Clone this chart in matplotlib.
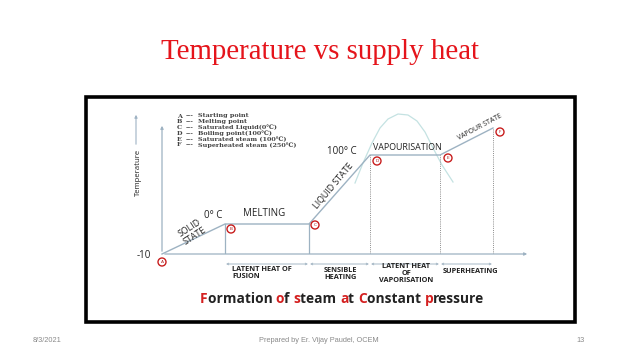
import matplotlib.pyplot as plt
from matplotlib.patches import Rectangle

# schematic heating curve (heat supplied vs temperature level)
points = ["A", "B", "C", "D", "E", "F"]
heat = [0, 63, 147, 208, 278, 331]
level = [0, 30, 30, 99, 99, 126]
temps = [-10, 0, 0, 100, 100, 250]

# saturation dome (light curve behind D-E)
dome_heat = [193, 201, 210, 218, 226, 236, 246, 255, 263, 271, 280, 291]
dome_level = [71, 91, 111, 126, 135, 140, 139, 133, 122, 106, 89, 72]

legend_lines = [
    ("A", "Starting point"),
    ("B", "Melting point"),
    ("C", "Saturated Liquid(0\u2103)"),
    ("D", "Boiling point(100\u2103)"),
    ("E", "Saturated steam (100\u2103)"),
    ("F", "Superheated steam (250\u2103)"),
]
zone_labels = ["LATENT HEAT OF\nFUSION", "SENSIBLE\nHEATING",
               "LATENT HEAT\nOF\nVAPORISATION", "SUPERHEATING"]

W, H = 638, 359
fig = plt.figure(figsize=(W / 100, H / 100), dpi=100)
bg = fig.add_axes([0, 0, 1, 1])
bg.set_xlim(0, W)
bg.set_ylim(H, 0)
bg.axis("off")

# slide title and footer
bg.text(320, 52, "Temperature vs supply heat", color="#e5141b", fontsize=20.8,
        family="Liberation Serif", ha="center", va="center")
foot = dict(color="#8a8a8a", fontsize=5.3, family="Liberation Sans", va="center")
bg.text(47, 341, "8/3/2021", ha="center", **foot)
bg.text(319, 341, "Prepared by Er. Vijay Paudel, OCEM", ha="center", **foot)
bg.text(581, 341, "13", ha="center", **foot)

# picture frame
bg.add_patch(Rectangle((86, 97), 489, 225, fill=False, ec="black", lw=2.6))

# temperature label with arrow
bg.annotate("", xy=(136, 112), xytext=(136, 147),
            arrowprops=dict(arrowstyle="-|>", color="#9fb3c4", lw=0.8, mutation_scale=4))
bg.text(138, 172, "Temperature", rotation=90, fontsize=5.6, family="Open Sans",
        ha="center", va="center", color="#222")

# legend
for i, (k, desc) in enumerate(legend_lines):
    y = 116 + i * 5.8
    st = dict(fontsize=4.6, family=["DejaVu Serif", "DejaVu Sans"], color="#444",
              va="center", fontweight="bold")
    bg.text(177, y, k, **st)
    bg.text(186, y, "---", **st)
    bg.text(198, y, desc, **st)

# diagram axes: 1 data unit = 1 pixel
ax = fig.add_axes([162 / W, (H - 254) / H, 368 / W, 131 / H])
ax.set_xlim(0, 368)
ax.set_ylim(0, 131)
ax.axis("off")

line_c = "#9db2c2"
ax.annotate("", xy=(368, 0), xytext=(0, 0),
            arrowprops=dict(arrowstyle="-|>", color=line_c, lw=0.9, mutation_scale=4))
ax.annotate("", xy=(0, 131), xytext=(0, 0),
            arrowprops=dict(arrowstyle="-|>", color=line_c, lw=0.9, mutation_scale=4))

ax.plot(dome_heat, dome_level, color="#c4e2e2", lw=0.9, clip_on=False)
ax.plot(heat, level, color=line_c, lw=1.0, clip_on=False)
for i in (1, 2):
    ax.plot([heat[i], heat[i]], [0, level[i]], color=line_c, lw=0.9)
for i in (3, 4, 5):
    ax.plot([heat[i], heat[i]], [0, level[i]], color="#8c8c8c", lw=0.7, ls=(0, (1, 1.2)))

# point markers
offsets = [(0, -8), (6, -5), (6, -1), (7, -6), (8, -3), (7, -4)]
for p, x, y, (dx, dy) in zip(points, heat, level, offsets):
    ax.annotate(p, xy=(x, y), xytext=(dx, dy), textcoords="offset pixels",
                fontsize=3.2, ha="center", va="center", color="#b02020",
                bbox=dict(boxstyle="circle,pad=0.45", fc="white", ec="#c81e1e", lw=1.0),
                annotation_clip=False)

# zone arrows and labels
zone_edges = heat[1:]
lab = dict(fontsize=5.3, family="Open Sans", fontweight="bold", color="#222",
           ha="center", va="top", linespacing=1.0)
for j in range(len(zone_edges) - 1):
    x0, x1 = zone_edges[j], zone_edges[j + 1]
    ax.annotate("", xy=(x1 - 1, -10), xytext=(x0 + 1, -10), annotation_clip=False,
                arrowprops=dict(arrowstyle="<->", color="#a6b8c6", lw=0.7,
                                mutation_scale=3, shrinkA=0, shrinkB=0))
ax.text(70, -12, zone_labels[0], clip_on=False, **{**lab, "ha": "left"})
ax.text((zone_edges[1] + zone_edges[2]) / 2 + 1, -13, zone_labels[1], clip_on=False, **lab)
ax.text((zone_edges[2] + zone_edges[3]) / 2 + 1, -9, zone_labels[2], clip_on=False, **lab)
ax.text((zone_edges[3] + zone_edges[4]) / 2 + 4, -14, zone_labels[3], clip_on=False, **lab)

# state labels
txt = dict(fontsize=7, family="Open Sans", color="#222", ha="center", va="center")
ax.text(-18, -1, str(temps[0]), **txt)
ax.text(51, 38, "%d\u00b0 C" % temps[1], **txt)
ax.text(102, 40, "MELTING", **txt)
ax.text(180, 102, "%d\u00b0 C" % temps[3], **txt)
ax.text(245, 106, "VAPOURISATION", **{**txt, "fontsize": 6.4})
ax.text(30, 22, "SOLID\nSTATE", rotation=33, linespacing=1.0, **{**txt, "fontsize": 6.4})
ax.text(171, 68, "LIQUID STATE", rotation=50, **{**txt, "fontsize": 6.4})
ax.text(318, 127, "VAPOUR STATE", rotation=28, **{**txt, "fontsize": 5})

# caption with red initials
parts = [("F", "#d42020"), ("ormation ", "#222"), ("o", "#d42020"), ("f ", "#222"),
         ("s", "#d42020"), ("team ", "#222"), ("a", "#d42020"), ("t ", "#222"),
         ("C", "#d42020"), ("onstant ", "#222"), ("p", "#d42020"), ("ressure", "#222")]
cap = dict(fontsize=9.9, family="Open Sans", fontweight="bold", va="baseline")
t = bg.text(200, 303, parts[0][0], color=parts[0][1], **cap)
for s, c in parts[1:]:
    t = bg.annotate(s, xy=(1, 0), xycoords=t, color=c, va="bottom",
                    **{k: v for k, v in cap.items() if k != "va"})

fig.savefig("out.png", dpi=100)
